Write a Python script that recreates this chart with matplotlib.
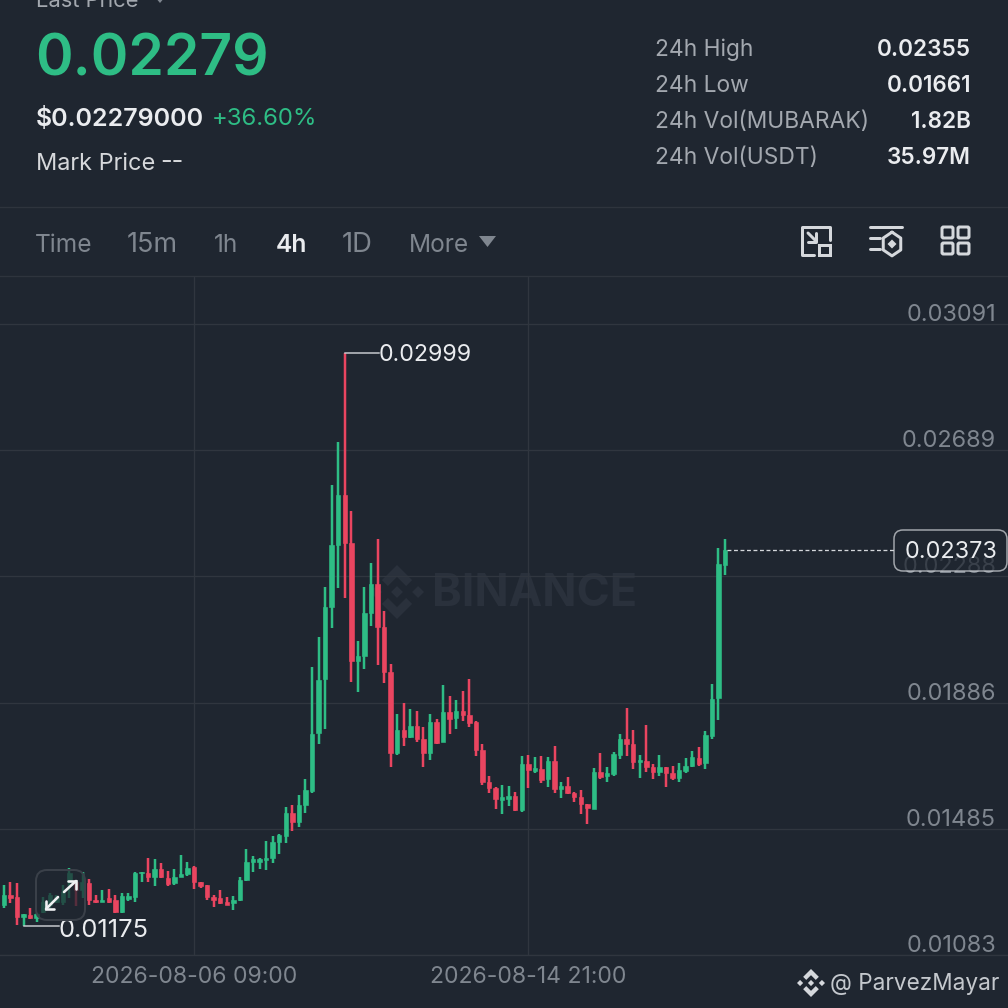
import numpy as np
import matplotlib
matplotlib.use("Agg")
import matplotlib.pyplot as plt
from matplotlib.patches import FancyBboxPatch, Polygon, Rectangle
from matplotlib.lines import Line2D
from matplotlib.transforms import ScaledTranslation

# Prices are quoted in units of 0.00001 (the chart's tick size)
TICK_SIZE = 1e-5
opens = [1242,1274,1268,1204,1210,1201,1220,1242,1252,1252,
         1315,1315,1290,1312,1258,1252,1264,1258,1220,1261,
         1268,1344,1344,1331,1357,1328,1312,1331,1341,1363,
         1315,1306,1268,1264,1252,1248,1258,1322,1379,1379,
         1385,1392,1443,1462,1535,1506,1560,1605,1789,1961,
         2190,2388,2547,2394,2019,2034,2171,2264,2127,1984,
         1726,1799,1777,1812,1770,1726,1824,1761,1856,1837,
         1859,1847,1824,1735,1634,1614,1576,1579,1589,1544,
         1691,1669,1675,1643,1700,1611,1621,1599,1586,1564,
         1548,1665,1653,1659,1719,1770,1754,1697,1700,1681,
         1665,1681,1662,1646,1669,1684,1710,1694,1780,1901,2324]
closes = [1274,1264,1204,1213,1201,1213,1252,1274,1268,1283,
          1344,1290,1315,1258,1252,1258,1252,1220,1271,1271,
          1344,1347,1331,1357,1331,1309,1331,1341,1360,1315,
          1303,1268,1258,1248,1242,1258,1322,1379,1388,1388,
          1392,1443,1465,1535,1506,1560,1608,1786,1958,2190,
          2388,2547,2394,2019,2034,2171,2264,2127,1984,1726,
          1799,1777,1812,1770,1726,1824,1758,1856,1834,1859,
          1847,1821,1735,1634,1614,1579,1586,1589,1544,1691,
          1672,1678,1640,1700,1611,1621,1599,1586,1564,1551,
          1665,1649,1662,1723,1770,1754,1697,1704,1681,1665,
          1681,1662,1646,1672,1684,1713,1691,1783,1898,2327,2373]
highs = [1306,1315,1312,1213,1233,1217,1268,1280,1274,1306,
         1360,1322,1347,1325,1274,1290,1293,1274,1280,1280,
         1347,1347,1392,1388,1376,1350,1357,1401,1379,1366,
         1315,1306,1274,1290,1268,1271,1331,1420,1398,1392,
         1446,1462,1468,1554,1560,1592,1643,1999,2095,2254,
         2579,2716,2999,2496,2082,2254,2330,2407,2178,2009,
         1850,1885,1866,1859,1809,1850,1834,1942,1907,1894,
         1923,1961,1828,1754,1653,1618,1624,1621,1602,1716,
         1719,1713,1716,1713,1748,1634,1649,1602,1608,1564,
         1678,1726,1681,1729,1786,1869,1799,1719,1815,1691,
         1719,1681,1684,1694,1710,1732,1745,1796,1945,2378,2407]
lows = [1233,1248,1178,1175,1198,1188,1217,1233,1248,1242,
        1264,1239,1264,1242,1248,1252,1248,1217,1217,1255,
        1252,1315,1315,1303,1328,1303,1306,1331,1334,1293,
        1296,1258,1236,1245,1242,1226,1255,1318,1347,1357,
        1353,1376,1404,1439,1478,1490,1535,1599,1754,1802,
        2124,2251,2219,1952,1920,1993,2130,2006,1949,1681,
        1719,1748,1774,1761,1681,1704,1754,1761,1786,1802,
        1828,1809,1716,1624,1599,1548,1532,1557,1541,1538,
        1614,1662,1630,1618,1599,1583,1595,1570,1532,1500,
        1548,1643,1634,1653,1707,1716,1675,1646,1665,1643,
        1653,1618,1640,1634,1662,1681,1684,1675,1770,1831,2292]
price_ticks = [3091, 2689, 2288, 1886, 1485, 1083]
time_tick_index = [29, 80]
time_tick_labels = ["2026-08-06 09:00", "2026-08-14 21:00"]
last_price = 2279
stats_labels = ["24h High", "24h Low", "24h Vol(MUBARAK)", "24h Vol(USDT)"]
stats_values = ["0.02355", "0.01661", "1.82B", "35.97M"]
tabs = ["Time", "15m", "1h", "4h", "1D", "More"]

FONT = "Inter"
BG = "#1F2630"; GRID = "#30363F"; GREEN = "#2EBD85"; RED = "#EA4560"
DIM = "#7F868F"; LABEL = "#A3A8AF"; WHITE = "#EAECEF"
plt.rcParams["font.family"] = [FONT, "DejaVu Sans"]
PX = 0.72  # points per pixel at dpi 100

fig = plt.figure(figsize=(10.08, 10.08), dpi=100, facecolor=BG)

def pixel_axes(z):
    a = fig.add_axes([0, 0, 1, 1], zorder=z)
    a.set_xlim(0, 1008); a.set_ylim(1008, 0); a.axis("off"); a.patch.set_alpha(0)
    return a

def logo(a, cx, cy, r, color):
    """Binance diamond mark, r = half width"""
    s = r / 10.0
    def P(pts):
        a.add_patch(Polygon([(cx + x * s, cy + y * s) for x, y in pts], closed=True, fc=color, ec="none"))
    P([(0, -2.2), (2.2, 0), (0, 2.2), (-2.2, 0)])
    P([(-10, 0), (-7.8, -2.2), (-5.6, 0), (-7.8, 2.2)])
    P([(10, 0), (7.8, -2.2), (5.6, 0), (7.8, 2.2)])
    P([(0, -10), (5.6, -4.4), (3.4, -2.2), (0, -5.6), (-3.4, -2.2), (-5.6, -4.4)])
    P([(0, 10), (5.6, 4.4), (3.4, 2.2), (0, 5.6), (-3.4, 2.2), (-5.6, 4.4)])

# ---------- background layer ----------
bg = pixel_axes(0)
logo(bg, 397, 592, 27, "#2A313C")
bg.text(432, 594, "BINANCE", fontsize=45 * PX, fontweight="bold", color="#2A313C", va="center", ha="left")

# ---------- chart ----------
PX_PER_CANDLE = 6.555
ax = fig.add_axes([0, (1008 - 955) / 1008, 1, (955 - 277) / 1008], zorder=1)
ax.patch.set_alpha(0)
ax.set_xlim(29 - 194 / PX_PER_CANDLE, 29 + 814 / PX_PER_CANDLE)
UNIT_PER_PX = (price_ticks[0] - price_ticks[-1]) * TICK_SIZE / 631.0
ax.set_ylim(price_ticks[-1] * TICK_SIZE, price_ticks[-1] * TICK_SIZE + 678 * UNIT_PER_PX)

o = np.array(opens) * TICK_SIZE; c = np.array(closes) * TICK_SIZE
h = np.array(highs) * TICK_SIZE; l = np.array(lows) * TICK_SIZE
x = np.arange(len(o))
cols = [GREEN if cc >= oo else RED for oo, cc in zip(o, c)]
ax.vlines(x, l, h, colors=cols, lw=2.5 * PX, zorder=3)
ax.bar(x, np.abs(c - o), bottom=np.minimum(o, c), width=0.68, color=cols, lw=0.6 * PX, edgecolor=cols, zorder=4)

yt = np.array(price_ticks) * TICK_SIZE
ax.set_yticks(yt, [f"{v:.5f}" for v in yt])
ax.set_xticks(time_tick_index, time_tick_labels)
ax.grid(True, color=GRID, lw=1.3 * PX, zorder=1)
ax.set_axisbelow(True)
ax.yaxis.tick_right()
ax.tick_params(axis="y", length=0, pad=-12 * PX, labelsize=23.5 * PX, labelcolor=DIM)
ax.tick_params(axis="x", length=0, pad=11 * PX, labelsize=23 * PX, labelcolor=DIM)
shift = ScaledTranslation(0, -2 / 100, fig.dpi_scale_trans)
for t in ax.get_yticklabels():
    t.set_ha("right"); t.set_va("bottom")
    t.set_transform(t.get_transform() + shift)
for s in ["top", "left", "right"]:
    ax.spines[s].set_visible(False)
ax.spines["bottom"].set_color(GRID); ax.spines["bottom"].set_linewidth(1.3 * PX)

# high / low callouts, current price leader
imax = int(np.argmax(h)); imin = int(np.argmin(l))
ax.plot([imax, imax + 34 / PX_PER_CANDLE], [h[imax], h[imax]], color="#C9CCD0", lw=1.5 * PX, zorder=5)
ax.text(imax + 33.5 / PX_PER_CANDLE, h[imax] - 2.5 * UNIT_PER_PX, f"{h[imax]:.5f}", color=WHITE, fontsize=23.2 * PX, va="center", ha="left", zorder=6)
ax.plot([imin, imin + 35 / PX_PER_CANDLE], [l[imin], l[imin]], color="#C9CCD0", lw=1.5 * PX, zorder=5)
ax.text(imin + 34.5 / PX_PER_CANDLE, l[imin] - 4.5 * UNIT_PER_PX, f"{l[imin]:.5f}", color=WHITE, fontsize=25.5 * PX, va="center", ha="left", zorder=6)
ax.plot([x[-1] + 0.3, x[-1] + 169 / PX_PER_CANDLE], [c[-1], c[-1]], color="#D5D8DC", lw=1.3 * PX, ls=(0, (3, 2)), zorder=5)

# ---------- overlay ----------
ov = pixel_axes(2)
# header
ov.text(36, 1, "Last Price", fontsize=22 * PX, color=LABEL, va="center")
ov.add_patch(Polygon([(155, -3), (165, -3), (160, 3)], fc=DIM, ec="none"))
ov.text(35, 60, f"{last_price * TICK_SIZE:.5f}", fontsize=57 * PX, fontweight="semibold", color=GREEN, va="center")
ov.text(36, 119, f"${last_price * TICK_SIZE:.8f}", fontsize=25 * PX, fontweight="semibold", color=WHITE, va="center")
ov.text(212, 119, "+36.60%", fontsize=24 * PX, color=GREEN, va="center")
ov.text(36, 164, "Mark Price", fontsize=23.5 * PX, color="#D6D8DB", va="center")
ov.text(160, 162, "--", fontsize=25.5 * PX, color="#D6D8DB", va="center")
for yy, a_, b_ in zip([50, 86, 122, 158], stats_labels, stats_values):
    ov.text(655, yy, a_, fontsize=22.8 * PX, color=LABEL, va="center")
    ov.text(971, yy, b_, fontsize=22.6 * PX, fontweight="semibold", color=WHITE, va="center", ha="right")

# separators
for yy in [207, 276]:
    ov.add_line(Line2D([0, 1008], [yy, yy], color="#2E343D", lw=1.3 * PX))

# tabs
tab_sizes = [24.5, 27, 24.5, 24.5, 27.5, 24.5]
for xx, t_, fs in zip([35, 127, 214, 276, 342, 409], tabs, tab_sizes):
    active = t_ == "4h"
    ov.text(xx, 245, t_, fontsize=fs * PX, color=WHITE if active else DIM,
            fontweight="semibold" if active else "normal", va="center")
ov.add_patch(Polygon([(479, 236), (496, 236), (487.5, 247)], fc=DIM, ec="none"))

# toolbar icons
ic = dict(color="#D5D8DC", lw=3 * PX, solid_capstyle="round", solid_joinstyle="round")
def L(xs, ys, **k):
    d = dict(ic); d.update(k); ov.add_line(Line2D(xs, ys, **d))
L([830, 830, 802, 802, 814], [240, 227, 227, 255, 255])
ov.add_patch(Rectangle((819, 245), 11, 10, fc="none", ec="#D5D8DC", lw=3 * PX))
L([808, 816], [233, 241]); L([808, 816, 816], [242, 242, 233])
L([870, 902], [227, 227]); L([870, 880], [238, 238]); L([870, 880], [249, 249])
th = np.radians(np.array([90, 150, 210, 270, 330, 30, 90]))
L(892 + 8.8 * 1.35 * np.cos(th) * 0.85, 244 - 8.8 * 1.35 * np.sin(th))
ov.add_patch(Polygon([(892, 239.5), (896.5, 244), (892, 248.5), (887.5, 244)], fc="#D5D8DC", ec="none"))
for xx, yy in [(942, 227), (958, 227), (942, 243), (958, 243)]:
    ov.add_patch(FancyBboxPatch((xx, yy), 11, 11, boxstyle="round,pad=0,rounding_size=1.5", fc="none", ec="#D5D8DC", lw=3 * PX))

# expand button
ov.add_patch(FancyBboxPatch((36, 870), 49, 50, boxstyle="round,pad=0,rounding_size=11",
                            fc=BG, alpha=0.72, ec="none"))
ov.add_patch(FancyBboxPatch((36, 870), 49, 50, boxstyle="round,pad=0,rounding_size=11",
                            fc="none", ec="#3A4049", lw=2 * PX))
aw = dict(color="#F0F1F3", lw=2.6 * PX, solid_capstyle="round", solid_joinstyle="miter")
L([64, 76], [892, 881], **aw); L([68, 76, 76], [881, 881, 889], **aw)
L([46, 58], [909, 897], **aw); L([46, 46, 54], [901, 909, 909], **aw)

# current price label
ov.add_patch(FancyBboxPatch((894, 530), 113, 41, boxstyle="round,pad=0,rounding_size=9",
                            fc=BG, alpha=0.72, ec="#D5D8DC", lw=1.5 * PX))
ov.text(951, 552, f"{c[-1]:.5f}", fontsize=23.5 * PX, color=WHITE, va="center", ha="center")

# attribution
logo(ov, 811, 983, 14, "#D5D8DC")
ov.text(830, 984, "@ ParvezMayar", fontsize=22.6 * PX, color="#C4C8CD", va="center")

fig.savefig("out.png", dpi=100, facecolor=BG)
